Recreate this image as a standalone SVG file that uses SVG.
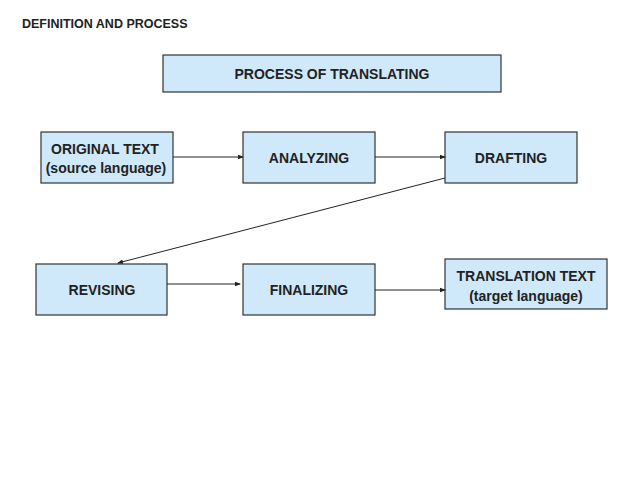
<svg xmlns="http://www.w3.org/2000/svg" width="638" height="478" viewBox="0 0 638 478">
<style>
.b{fill:#cfe9fb;stroke:#333;stroke-width:1.2}
.t{font-family:"Liberation Sans",Arial,sans-serif;font-weight:bold;font-size:14px;fill:#222;text-anchor:middle}
.c{stroke:#222;stroke-width:1;fill:none;marker-end:url(#a)}
</style>
<defs><marker id="a" markerWidth="6" markerHeight="6" refX="5" refY="3" orient="auto" markerUnits="userSpaceOnUse"><path d="M0,0.8 L6,3 L0,5.2z" fill="#222"/></marker></defs>
<rect width="638" height="478" fill="#fff"/>
<text x="22" y="28" class="t" style="text-anchor:start;font-size:12.5px">DEFINITION AND PROCESS</text>
<g id="title"><rect class="b" x="163" y="55" width="338" height="37"/><text class="t" x="332" y="79">PROCESS OF TRANSLATING</text></g>
<g id="original"><rect class="b" x="41" y="132" width="132" height="51"/><text class="t" x="105" y="154">ORIGINAL TEXT</text><text class="t" x="106" y="173">(source language)</text></g>
<g id="analyzing"><rect class="b" x="243" y="132" width="132" height="51"/><text class="t" x="309" y="163">ANALYZING</text></g>
<g id="drafting"><rect class="b" x="445" y="132" width="132" height="51"/><text class="t" x="511" y="163">DRAFTING</text></g>
<g id="revising"><rect class="b" x="36" y="264" width="131" height="51"/><text class="t" x="102" y="295">REVISING</text></g>
<g id="finalizing"><rect class="b" x="243" y="264" width="132" height="51"/><text class="t" x="309" y="295">FINALIZING</text></g>
<g id="translation"><rect class="b" x="445" y="259" width="162" height="50"/><text class="t" x="526" y="281">TRANSLATION TEXT</text><text class="t" x="526" y="301">(target language)</text></g>
<g id="connectors">
<path class="c" d="M173,157 L243,157"/>
<path class="c" d="M375,157 L445,157"/>
<path class="c" d="M445,178 L118,263"/>
<path class="c" d="M167,284 L240,284"/>
<path class="c" d="M375,290 L445,290"/>
</g>
</svg>
